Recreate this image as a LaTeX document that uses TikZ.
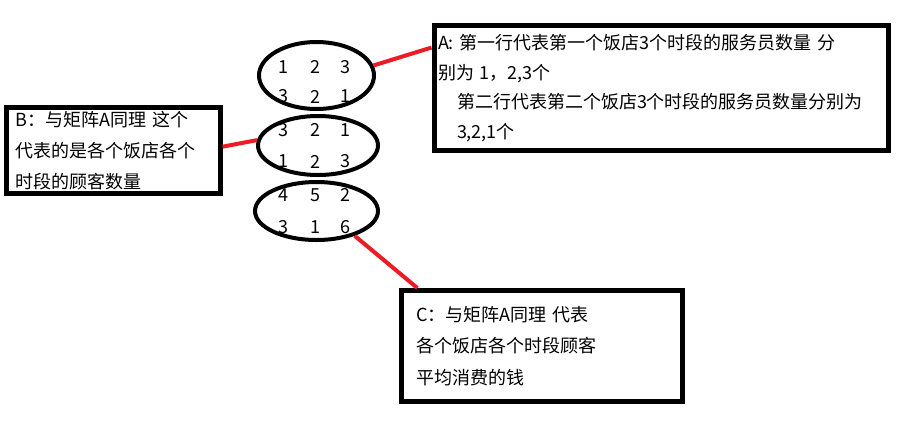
\documentclass[tikz,border=0pt]{standalone}
\usepackage{fontspec}
\setmainfont{Noto Sans CJK SC}
\usepackage{xcolor}
\usetikzlibrary{shapes.geometric}
\definecolor{paintred}{RGB}{237,28,36}

\begin{document}
\begin{tikzpicture}[
  x=1pt, y=-1pt,
  box/.style={draw, line width=5pt, align=left},
  ring/.style={draw, ellipse, line width=4pt, inner sep=0pt},
  num/.style={font=\fontsize{18}{18}\selectfont, inner sep=0pt},
  link/.style={draw=paintred, line width=4pt}
]
\useasboundingbox (0,0) rectangle (908,426);

% the three matrices
\node[ring, minimum width=115pt, minimum height=67pt] (ma) at (316.5,75.5) {};
\node[ring, minimum width=120pt, minimum height=59pt] (mb) at (318,145.5) {};
\node[ring, minimum width=123pt, minimum height=58pt] (mc) at (316.5,211) {};

\foreach \m/\ya/\yb/\p/\q/\r/\s/\t/\u in {a/67/96.5/1/2/3/3/2/1, b/130/161.5/3/2/1/1/2/3, c/195/227/4/5/2/3/1/6}{
  \node[num] (\m11) at (283,\ya) {\p};
  \node[num] (\m12) at (315,\ya) {\q};
  \node[num] (\m13) at (345,\ya) {\r};
  \node[num] (\m21) at (283,\yb) {\s};
  \node[num] (\m22) at (315,\yb) {\t};
  \node[num] (\m23) at (345,\yb) {\u};
}

% the notes
\node[box, minimum width=454pt, minimum height=125pt, inner xsep=4pt, text width=446pt,
  font=\fontsize{18}{29.5}\selectfont] (boxA) at (661,88)
  {A: 第一行代表第一个饭店3个时段的服务员数量 分\\
   别为 1，2,3个\\
   \hspace*{19pt}第二行代表第二个饭店3个时段的服务员数量分别为\\
   \hspace*{19pt}3,2,1个};
\node[box, minimum width=214pt, minimum height=81pt, inner xsep=10pt, text width=194pt,
  font=\fontsize{18}{31}\selectfont] (boxB) at (113,150.5)
  {B：与矩阵A同理 这个\\代表的是各个饭店各个\\时段的顾客数量};
\node[box, minimum width=281.5pt, minimum height=111pt, inner xsep=15pt, text width=251.5pt,
  font=\fontsize{18}{31.5}\selectfont] (boxC) at (541.75,346)
  {C：与矩阵A同理 代表\\各个饭店各个时段顾客\\平均消费的钱};

\draw[link] (ma.10) -- (boxA.170);
\draw[link] (boxB.2) -- (mb.175);
\draw[link] (mc.327) -- (boxC.155);
\end{tikzpicture}
\end{document}
